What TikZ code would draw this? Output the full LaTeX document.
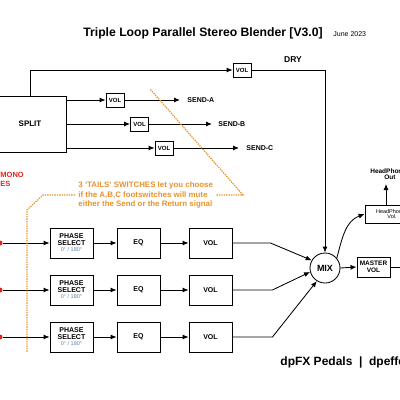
\documentclass[tikz,border=0pt]{standalone}
\usepackage{fontspec}
\setmainfont{Liberation Sans}
\usetikzlibrary{arrows.meta}

\definecolor{tailorange}{HTML}{E8922A}
\definecolor{inred}{HTML}{E5231B}
\definecolor{phaseblue}{HTML}{5A7FA8}

\newcommand{\fs}[1]{\fontsize{#1}{#1}\selectfont}

\tikzset{
  sig/.style={-{Latex[length=6pt,width=5pt]}},
  blk/.style={draw, minimum width=43pt, minimum height=30pt, inner sep=1pt,
    align=center, font=\bfseries\fs{7}},
  volbox/.style={draw, minimum width=18pt, minimum height=14pt, inner sep=0pt,
    font=\bfseries\fs{6}},
  lbl/.style={font=\bfseries\fs{7}, inner sep=0pt, anchor=west},
  tails/.style={tailorange, line width=1.2pt, dash pattern=on 1.4pt off 1pt},
  indot/.style={circle, fill=inred, inner sep=0pt, minimum size=5pt}
}

\begin{document}
\begin{tikzpicture}[x=1pt, y=1pt, line width=0.85pt]
  \useasboundingbox (0,0) rectangle (400,-400);
  \clip (0,0) rectangle (400,-400);

  % title
  \node[font=\bfseries\fs{12.2}] (title) at (203,-33) {Triple Loop Parallel Stereo Blender [V3.0]};
  \node[font=\fs{7}, anchor=west, inner sep=0pt] (date) at (333,-34) {June 2023};

  % split and sends
  \node[draw, minimum width=72pt, minimum height=56pt, font=\bfseries\fs{8}] (split) at (30,-124) {SPLIT};
  \node[volbox] (vdry) at (242,-70) {VOL};
  \node[font=\bfseries\fs{8.5}] (dry) at (293,-60) {DRY};
  \draw[sig] (split.north) |- (vdry.west);

  \node[volbox] (va) at (115,-100) {VOL};
  \node[volbox] (vb) at (139.5,-124) {VOL};
  \node[volbox] (vc) at (164,-148) {VOL};
  \node[lbl] (senda) at (187,-100) {SEND-A};
  \node[lbl] (sendb) at (218,-124) {SEND-B};
  \node[lbl] (sendc) at (246,-148) {SEND-C};
  \draw[sig] (split.east |- va.west) -- (va.west);
  \draw[sig] (split.east |- vb.west) -- (vb.west);
  \draw[sig] (split.east |- vc.west) -- (vc.west);
  \draw[sig, shorten >=7pt] (va.east) -- (senda.west);
  \draw[sig, shorten >=6pt] (vb.east) -- (sendb.west);
  \draw[sig, shorten >=7pt] (vc.east) -- (sendc.west);

  % input side notes
  \node[text=inred, font=\bfseries\fs{7.5}, anchor=west, inner sep=0pt] (monotxt) at (0,-175) {MONO};
  \node[text=inred, font=\bfseries\fs{7.5}, anchor=west, inner sep=0pt] (estxt) at (0,-184) {ES};

  % the three loops
  \foreach \r/\y in {1/243,2/290,3/337} {
    \node[indot] (in\r) at (0,-\y) {};
    \node[blk] (ph\r) at (71.5,-\y) {PHASE\\SELECT\\[-1pt]{\mdseries\fs{5.5}\color{phaseblue}0° / 180°}};
    \node[blk] (eq\r) at (138.5,-\y) {EQ};
    \node[blk] (vl\r) at (210.5,-\y) {VOL};
    \draw[sig] (in\r) -- (ph\r);
    \draw[sig] (ph\r) -- (eq\r);
    \draw[sig] (eq\r) -- (vl\r);
  }

  % mix and outputs
  \node[draw, circle, minimum size=30pt, inner sep=0pt, font=\bfseries\fs{9}] (mix) at (325,-268) {MIX};
  \draw[sig] (vdry.east) -| (mix.north);
  \draw[sig] (vl1.east) -- ++(38,0) -- (mix.150);
  \draw[sig] (vl2.east) -- ++(40,0) -- (mix.195);
  \draw[sig] (vl3.east) -- ++(40,0) -- (mix.238);

  \node[draw, minimum width=33pt, minimum height=20pt, inner sep=1pt, align=center,
    font=\bfseries\fs{6.5}] (master) at (373.5,-267) {MASTER\\VOL};
  \draw[sig] (mix.east) -- (master.west);
  \draw (master.east) -- ++(15,0);

  \node[draw, minimum width=54pt, minimum height=18pt, inner sep=1pt, align=center,
    font=\fs{5.5}] (hpvol) at (392,-214) {HeadPhones\\Vol.};
  \node[font=\bfseries\fs{6.5}, align=center, inner sep=1pt] (hpout) at (390,-174) {HeadPhones\\Out};
  \draw[sig] (mix.40) to[out=75, in=200] (hpvol.west);
  \draw[sig] (hpvol.north -| 386,0) -- (386,-184);

  % tails switches note
  \node[text=tailorange, font=\bfseries\fs{7.9}, align=left, anchor=west, inner sep=0pt] (tailnote)
    at (78,-195) {3 `TAILS' SWITCHES let you choose\\[1.6pt]if the A,B,C footswitches will mute\\[1.6pt]either the Send or the Return signal};
  \coordinate (tailtip) at (243,-195);
  \coordinate (tailtop) at (150,-89);
  \coordinate (tailfoot) at (27,-352);
  \draw[tails] ([xshift=3pt]tailnote.east) -- (tailtip) -- (tailtop);
  \draw[tails] ([xshift=-3pt]tailnote.west) -- (43,-195) -- (27,-210) -- (tailfoot);

  % footer
  \node[font=\bfseries\fs{12}, anchor=west, inner sep=0pt] (brand) at (280,-362) {dpFX Pedals \ | \ dpeffects.com};
\end{tikzpicture}
\end{document}
